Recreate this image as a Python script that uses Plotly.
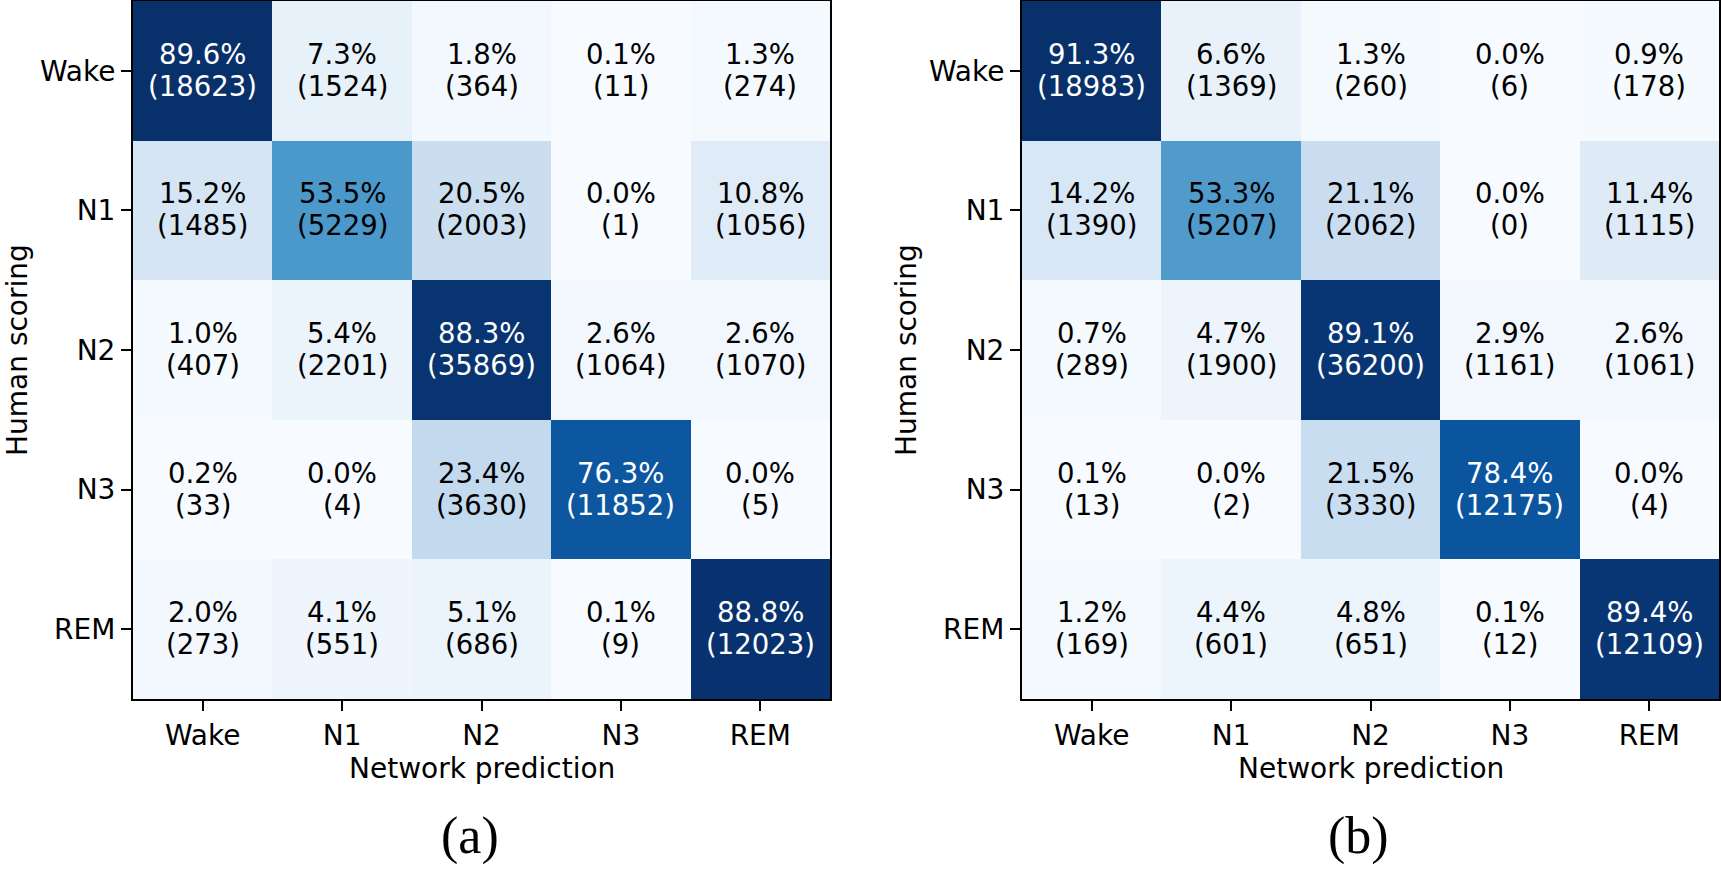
import plotly.graph_objects as go

W, H = 1721, 869
labels = ["Wake", "N1", "N2", "N3", "REM"]

pct_a = [
    [89.6, 7.3, 1.8, 0.1, 1.3],
    [15.2, 53.5, 20.5, 0.0, 10.8],
    [1.0, 5.4, 88.3, 2.6, 2.6],
    [0.2, 0.0, 23.4, 76.3, 0.0],
    [2.0, 4.1, 5.1, 0.1, 88.8],
]
cnt_a = [
    [18623, 1524, 364, 11, 274],
    [1485, 5229, 2003, 1, 1056],
    [407, 2201, 35869, 1064, 1070],
    [33, 4, 3630, 11852, 5],
    [273, 551, 686, 9, 12023],
]
pct_b = [
    [91.3, 6.6, 1.3, 0.0, 0.9],
    [14.2, 53.3, 21.1, 0.0, 11.4],
    [0.7, 4.7, 89.1, 2.9, 2.6],
    [0.1, 0.0, 21.5, 78.4, 0.0],
    [1.2, 4.4, 4.8, 0.1, 89.4],
]
cnt_b = [
    [18983, 1369, 260, 6, 178],
    [1390, 5207, 2062, 0, 1115],
    [289, 1900, 36200, 1161, 1061],
    [13, 2, 3330, 12175, 4],
    [169, 601, 651, 12, 12109],
]
panel_labels = ["(a)", "(b)"]

blues = ["#f7fbff", "#deebf7", "#c6dbef", "#9ecae1", "#6baed6",
         "#4292c6", "#2171b5", "#08519c", "#08306b"]
cscale = [[i / 8, c] for i, c in enumerate(blues)]

FONT = "DejaVu Sans"
FS = 28
CFS = 27.5

fig = go.Figure()

y_top, y_bot = 1, 699
xdoms = [(133, 830), (1022, 1719)]

annotations = []
for k, (pct, cnt) in enumerate([(pct_a, cnt_a), (pct_b, cnt_b)]):
    xa = "x" if k == 0 else "x2"
    ya = "y" if k == 0 else "y2"
    zmax = max(max(r) for r in pct)
    zmin = 0
    fig.add_trace(go.Heatmap(
        z=pct, x=list(range(5)), y=list(range(5)),
        colorscale=cscale, zmin=zmin, zmax=zmax, showscale=False,
        xaxis=xa, yaxis=ya, hoverinfo="skip", xgap=0, ygap=0,
    ))
    thr = 65
    for i in range(5):
        for j in range(5):
            col = "white" if pct[i][j] > thr else "black"
            annotations.append(dict(
                x=j, y=i, xref=xa, yref=ya, text=f"{pct[i][j]:.1f}%",
                showarrow=False, font=dict(family=FONT, size=CFS, color=col),
                xanchor="center", yanchor="middle", yshift=17))
            annotations.append(dict(
                x=j, y=i, xref=xa, yref=ya, text=f"({cnt[i][j]})",
                showarrow=False, font=dict(family=FONT, size=CFS, color=col),
                xanchor="center", yanchor="middle", yshift=-15))
    x0, x1 = xdoms[k]
    cx = (x0 + x1) / 2
    annotations.append(dict(
        x=cx / W, y=1 - 768 / H, xref="paper", yref="paper",
        text="Network prediction", showarrow=False,
        font=dict(family=FONT, size=FS, color="black"),
        xanchor="center", yanchor="middle"))
    annotations.append(dict(
        x=(x0 - 116) / W, y=1 - 350 / H, xref="paper", yref="paper",
        text="Human scoring", showarrow=False, textangle=-90,
        font=dict(family=FONT, size=FS, color="black"),
        xanchor="center", yanchor="middle"))
    annotations.append(dict(
        x=(cx - 12) / W, y=0.0, xref="paper", yref="paper",
        text=panel_labels[k], showarrow=False,
        font=dict(family="Liberation Serif", size=52, color="black"),
        xanchor="center", yanchor="bottom", yshift=2))

axis_common = dict(
    showline=True, mirror=True, linewidth=2, linecolor="black",
    ticks="outside", ticklen=10, tickwidth=2, tickcolor="black",
    showgrid=False, zeroline=False,
    tickfont=dict(family=FONT, size=FS, color="black"),
    tickmode="array", tickvals=list(range(5)), ticktext=labels,
)
ydom = [1 - y_bot / H, 1 - y_top / H]
fig.update_layout(
    width=W, height=H, margin=dict(l=0, r=0, t=0, b=0),
    paper_bgcolor="white", plot_bgcolor="white",
    xaxis=dict(domain=[xdoms[0][0] / W, xdoms[0][1] / W], range=[-0.5, 4.5], anchor="y", **axis_common),
    yaxis=dict(domain=ydom, range=[4.5, -0.5], anchor="x", **axis_common),
    xaxis2=dict(domain=[xdoms[1][0] / W, xdoms[1][1] / W], range=[-0.5, 4.5], anchor="y2", **axis_common),
    yaxis2=dict(domain=ydom, range=[4.5, -0.5], anchor="x2", **axis_common),
    annotations=annotations,
    showlegend=False,
)

fig.write_html("out.html")
